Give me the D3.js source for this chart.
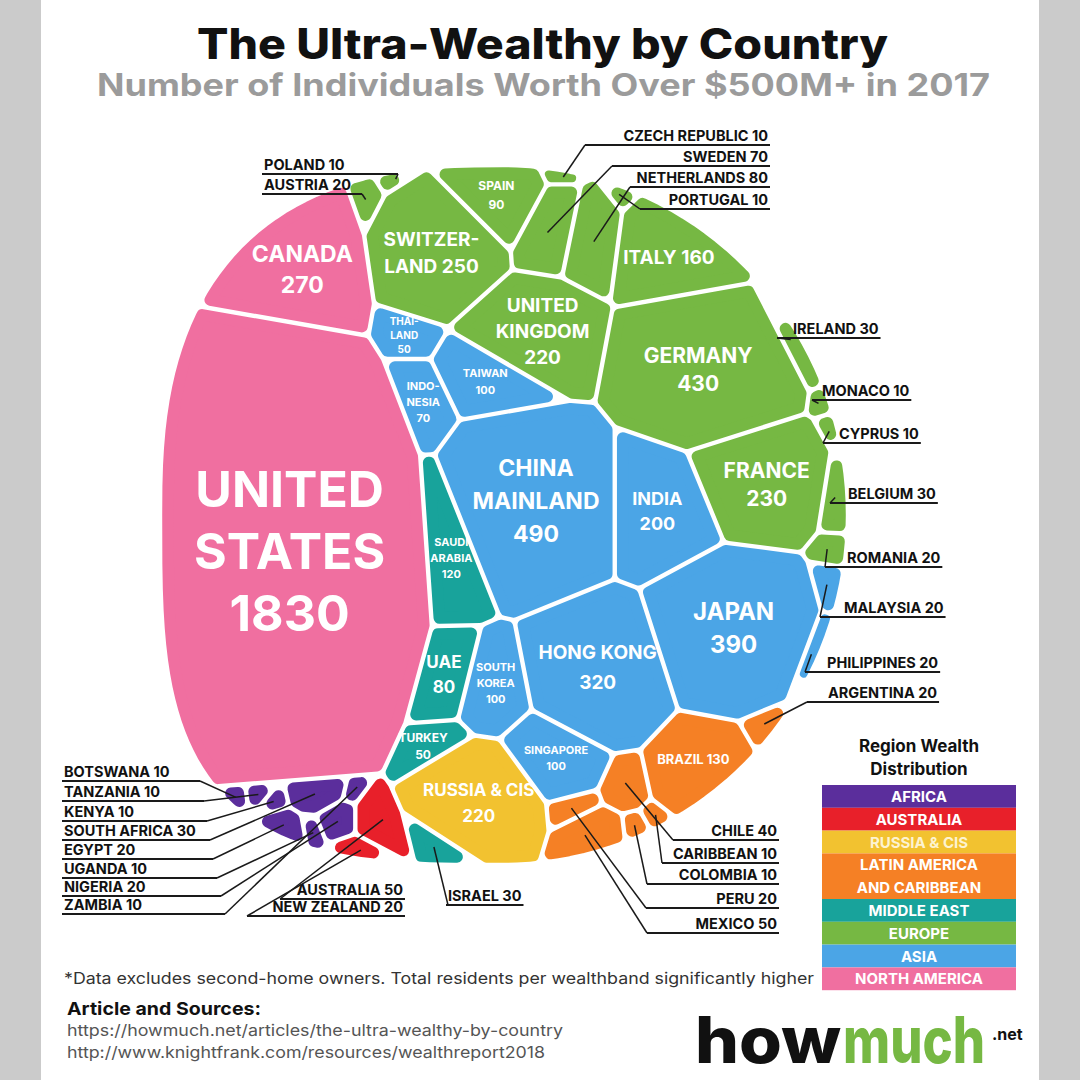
<!DOCTYPE html>
<html>
<head>
<meta charset="utf-8">
<title>The Ultra-Wealthy by Country</title>
<style>
  html, body { margin: 0; padding: 0; background: #fff; }
  svg { display: block; }
  text { font-family: Inter, "Open Sans", sans-serif; }
</style>
</head>
<body>
<script src="https://cdn.jsdelivr.net/npm/d3@7"></script>
<script>
// ---- data ----
var regions = ["Africa", "Australia", "Russia & CIS", "Latin America and Caribbean",
               "Middle East", "Europe", "Asia", "North America"];
var regionColors = ["#5b2e9c", "#e8202a", "#f2c230", "#f58025",
                    "#18a39b", "#76b843", "#4ba5e6", "#f06fa0"];
var legendLines = [["AFRICA"], ["AUSTRALIA"], ["RUSSIA & CIS"], ["LATIN AMERICA", "AND CARIBBEAN"],
                   ["MIDDLE EAST"], ["EUROPE"], ["ASIA"], ["NORTH AMERICA"]];

var countries = [
  "United States", "Canada",
  "Switzerland", "Spain", "Poland", "Austria", "Czech Republic", "Sweden", "Netherlands", "Portugal",
  "Italy", "United Kingdom", "Germany", "Ireland", "Monaco", "Cyprus", "France", "Belgium", "Romania",
  "Thailand", "Taiwan", "Indonesia", "China Mainland", "India", "Japan", "Hong Kong", "South Korea",
  "Singapore", "Malaysia", "Philippines",
  "Saudi Arabia", "UAE", "Turkey", "Israel",
  "Russia & CIS",
  "Argentina", "Brazil", "Chile", "Caribbean", "Colombia", "Peru", "Mexico",
  "Australia", "New Zealand",
  "Botswana", "Tanzania", "Kenya", "South Africa", "Egypt", "Uganda", "Nigeria", "Zambia"
];
var values = [
  1830, 270,
  250, 90, 10, 20, 10, 70, 80, 10,
  160, 220, 430, 30, 10, 10, 230, 30, 20,
  50, 100, 70, 490, 200, 390, 320, 100,
  100, 20, 20,
  120, 80, 50, 30,
  220,
  20, 130, 40, 10, 10, 20, 50,
  50, 20,
  10, 10, 10, 30, 20, 10, 20, 10
];
var countryRegion = [
  "North America", "North America",
  "Europe", "Europe", "Europe", "Europe", "Europe", "Europe", "Europe", "Europe",
  "Europe", "Europe", "Europe", "Europe", "Europe", "Europe", "Europe", "Europe", "Europe",
  "Asia", "Asia", "Asia", "Asia", "Asia", "Asia", "Asia", "Asia",
  "Asia", "Asia", "Asia",
  "Middle East", "Middle East", "Middle East", "Middle East",
  "Russia & CIS",
  "Latin America and Caribbean", "Latin America and Caribbean", "Latin America and Caribbean",
  "Latin America and Caribbean", "Latin America and Caribbean", "Latin America and Caribbean",
  "Latin America and Caribbean",
  "Australia", "Australia",
  "Africa", "Africa", "Africa", "Africa", "Africa", "Africa", "Africa", "Africa"
];

// ---- layout hints: fixed sites of the power diagram ----
var seedHints = [
  [60, 585], [110, 300],
  [455, 250], [495, 210], [412, 182], [372, 207], [556, 180], [556, 243], [590, 250], [634, 215],
  [680, 262], [540, 345], [700, 375], [778, 335], [808, 390], [822, 437], [735, 485], [829, 500], [826, 560],
  [422, 355], [505, 405], [422, 445], [525, 520], [650, 520], [715, 640], [590, 680], [487, 700],
  [545, 765], [818, 612], [800, 672],
  [425, 560], [427, 685], [432, 757], [415, 905],
  [470, 820],
  [755, 737], [690, 775], [607, 793], [645, 833], [620, 847], [557, 812], [577, 852],
  [362, 800], [338, 845],
  [222, 760], [245, 757], [270, 778], [305, 770], [280, 812], [302, 808], [322, 800], [330, 776]
];
// the African and Australian cells are laid out as one group first, then split
var groupedRegions = ["Africa", "Australia"];
var groupSite = [92, 985];

// labels drawn inside cells ("#" = value)
var insideLines = {
  "United States": ["UNITED", "STATES", "#"], "Canada": ["CANADA", "#"],
  "Switzerland": ["SWITZER-", "LAND #"], "Spain": ["SPAIN", "#"], "Italy": ["ITALY #"],
  "United Kingdom": ["UNITED", "KINGDOM", "#"], "Germany": ["GERMANY", "#"], "France": ["FRANCE", "#"],
  "Thailand": ["THAI-", "LAND", "#"], "Taiwan": ["TAIWAN", "#"], "Indonesia": ["INDO-", "NESIA", "#"],
  "China Mainland": ["CHINA", "MAINLAND", "#"], "India": ["INDIA", "#"], "Japan": ["JAPAN", "#"],
  "Hong Kong": ["HONG KONG", "#"], "South Korea": ["SOUTH", "KOREA", "#"], "Singapore": ["SINGAPORE", "#"],
  "Saudi Arabia": ["SAUDI", "ARABIA", "#"], "UAE": ["UAE", "#"], "Turkey": ["TURKEY", "#"],
  "Russia & CIS": ["RUSSIA & CIS", "#"], "Brazil": ["BRAZIL #"]
};
var insideFont = {
  "United States": [50, 62], "Canada": [23, 31], "Switzerland": [19, 27], "Spain": [12, 19],
  "Italy": [19, 20], "United Kingdom": [19, 26], "Germany": [21, 28], "France": [21, 28],
  "Thailand": [10, 14], "Taiwan": [11, 17], "Indonesia": [11, 16], "China Mainland": [23, 33],
  "India": [18, 25], "Japan": [24, 33], "Hong Kong": [19, 30], "South Korea": [11, 16],
  "Singapore": [11, 16], "Saudi Arabia": [11, 16], "UAE": [17, 25], "Turkey": [12, 17],
  "Russia & CIS": [17, 26], "Brazil": [13, 14]
};
// labels outside: name, text x, baseline y, anchor, x where the leader leaves the underline
var outsideLabels = [
  ["Poland", 264, 170, "start", 398], ["Austria", 264, 190, "start", 362],
  ["Czech Republic", 768, 141, "end", 585], ["Sweden", 768, 162, "end", 612],
  ["Netherlands", 768, 183, "end", 630], ["Portugal", 768, 205, "end", 640],
  ["Ireland", 793, 334, "start", 777], ["Monaco", 822, 396, "start", 812],
  ["Cyprus", 839, 439, "start", 823], ["Belgium", 848, 499, "start", 830],
  ["Romania", 847, 563, "start", 825], ["Malaysia", 844, 613, "start", 820],
  ["Philippines", 827, 668, "start", 805], ["Argentina", 828, 698, "start", 807],
  ["Chile", 777, 836, "end", 673], ["Caribbean", 777, 859, "end", 662],
  ["Colombia", 777, 880, "end", 647], ["Peru", 777, 904, "end", 646],
  ["Mexico", 777, 929, "end", 647], ["Israel", 448, 901, "start", 448],
  ["Australia", 403, 895, "end", 280], ["New Zealand", 403, 912, "end", 247],
  ["Botswana", 64, 777, "start", 200], ["Tanzania", 64, 797, "start", 204],
  ["Kenya", 64, 817, "start", 207], ["South Africa", 64, 836, "start", 210],
  ["Egypt", 64, 855, "start", 213], ["Uganda", 64, 874, "start", 217],
  ["Nigeria", 64, 892, "start", 221], ["Zambia", 64, 910, "start", 225]
];

// ---- svg ----
var W = 1080, H = 1080;
var svg = d3.select("body").append("svg").attr("width", W).attr("height", H);
svg.append("rect").attr("width", W).attr("height", H).attr("fill", "#fff");
svg.append("rect").attr("x", 0).attr("width", 41).attr("height", H).attr("fill", "#cbcbcb");
svg.append("rect").attr("x", 1039).attr("width", 41).attr("height", H).attr("fill", "#cbcbcb");

var color = d3.scaleOrdinal().domain(regions).range(regionColors);

// ---- outline: circle on the right, flatter superellipse on the left ----
var CX = 503, CY = 515, AL = 343, AR = 345, B = 350, NT = 2.6, NB = 3.3;
var outline = d3.range(160).map(function (i) {
  var t = i / 160 * 2 * Math.PI, c = Math.cos(t), s = Math.sin(t);
  if (c < 0) {
    var e = 2 / (s > 0 ? NB : NT);
    return [CX - AL * Math.pow(-c, e), CY + B * Math.sign(s) * Math.pow(Math.abs(s), e)];
  }
  return [CX + AR * c, CY + B * s];
});

function clipHalf(poly, nx, ny, c) {
  var out = [], n = poly.length;
  for (var i = 0; i < n; i++) {
    var P = poly[i], Q = poly[(i + 1) % n];
    var fp = nx * P[0] + ny * P[1] - c, fq = nx * Q[0] + ny * Q[1] - c;
    if (fp <= 0) out.push(P);
    if ((fp <= 0) !== (fq <= 0)) {
      var t = fp / (fp - fq);
      out.push([P[0] + t * (Q[0] - P[0]), P[1] + t * (Q[1] - P[1])]);
    }
  }
  return out;
}
function planesOf(poly) {
  var c = d3.polygonCentroid(poly);
  return poly.map(function (a, i) {
    var b = poly[(i + 1) % poly.length];
    var nx = b[1] - a[1], ny = -(b[0] - a[0]), L = Math.hypot(nx, ny) || 1;
    nx /= L; ny /= L;
    if (nx * (c[0] - a[0]) + ny * (c[1] - a[1]) > 0) { nx = -nx; ny = -ny; }
    return [nx, ny, nx * a[0] + ny * a[1]];
  });
}
function d2(a, b) { return (a.x - b.x) * (a.x - b.x) + (a.y - b.y) * (a.y - b.y); }

// power diagram with fixed sites; weights are solved so that areas match the values
function voronoiMap(points, vals, clipPoly, iterations, rSkip) {
  var planes = planesOf(clipPoly);
  var xs = clipPoly.map(function (p) { return p[0]; }), ys = clipPoly.map(function (p) { return p[1]; });
  var box = [[d3.min(xs) - 50, d3.min(ys) - 50], [d3.max(xs) + 50, d3.min(ys) - 50],
             [d3.max(xs) + 50, d3.max(ys) + 50], [d3.min(xs) - 50, d3.max(ys) + 50]];
  var cen = d3.polygonCentroid(clipPoly);
  var sites = points.map(function (p) { return { x: p[0], y: p[1], w: 0 }; });
  var orders = sites.map(function (si, i) {
    return d3.range(sites.length).filter(function (j) { return j !== i; })
      .sort(function (a, b) { return d2(si, sites[a]) - d2(si, sites[b]); });
  });
  var sum = d3.sum(vals), area = Math.abs(d3.polygonArea(clipPoly));
  var targets = vals.map(function (v) { return v / sum * area; });
  function cellsNow() {
    return sites.map(function (si, i) {
      var poly = box, ord = orders[i];
      for (var k = 0; k < ord.length && poly.length > 2; k++) {
        var sj = sites[ord[k]];
        poly = clipHalf(poly, 2 * (sj.x - si.x), 2 * (sj.y - si.y),
          sj.x * sj.x + sj.y * sj.y - si.x * si.x - si.y * si.y - sj.w + si.w);
      }
      var far = !rSkip || poly.some(function (p) {
        return (p[0] - cen[0]) * (p[0] - cen[0]) + (p[1] - cen[1]) * (p[1] - cen[1]) > rSkip * rSkip;
      });
      if (far) {
        for (var m = 0; m < planes.length && poly.length > 2; m++) {
          poly = clipHalf(poly, planes[m][0], planes[m][1], planes[m][2]);
        }
      }
      return poly.length > 2 ? poly : [];
    });
  }
  for (var it = 0; it < iterations; it++) {
    var cells = cellsNow();
    var eta = it < iterations * 0.8 ? 0.5 : 0.3;
    sites.forEach(function (s, i) {
      var a = cells[i].length ? Math.abs(d3.polygonArea(cells[i])) : 0;
      s.w += eta * (targets[i] - a);
    });
  }
  return cellsNow();
}

// level 1: every country outside the group, plus the group itself
function inGroup(i) { return groupedRegions.indexOf(countryRegion[i]) >= 0; }
var topIdx = d3.range(countries.length).filter(function (i) { return !inGroup(i); });
var grpIdx = d3.range(countries.length).filter(inGroup);
var topPts = topIdx.map(function (i) { return seedHints[i]; }).concat([groupSite]);
var topVals = topIdx.map(function (i) { return values[i]; })
  .concat([d3.sum(grpIdx, function (i) { return values[i]; })]);
var topCells = voronoiMap(topPts, topVals, outline, 2500, 320);

var finalCells = [];
topIdx.forEach(function (i, k) { finalCells[i] = topCells[k]; });
var groupPoly = topCells[topCells.length - 1];
var grpCells = groupPoly.length
  ? voronoiMap(grpIdx.map(function (i) { return seedHints[i]; }),
               grpIdx.map(function (i) { return values[i]; }), groupPoly, 2000, 0)
  : grpIdx.map(function () { return []; });
grpIdx.forEach(function (i, k) { finalCells[i] = grpCells[k]; });

// shrink a convex cell so that rounded corners can be drawn with a stroke
function inset(poly, d) {
  var c = d3.polygonCentroid(poly), out = poly;
  for (var i = 0; i < poly.length; i++) {
    var a = poly[i], b = poly[(i + 1) % poly.length];
    var nx = -(b[1] - a[1]), ny = b[0] - a[0], L = Math.hypot(nx, ny);
    if (L < 1e-9) continue;
    nx /= L; ny /= L;
    if ((c[0] - a[0]) * nx + (c[1] - a[1]) * ny > 0) { nx = -nx; ny = -ny; }
    out = clipHalf(out, nx, ny, nx * a[0] + ny * a[1] - d);
    if (out.length < 3) return [];
  }
  return out;
}

var GAP = 2.2;
var line = d3.line().curve(d3.curveLinearClosed);
var cellG = svg.append("g");
countries.forEach(function (name, i) {
  var poly = finalCells[i];
  if (!poly || !poly.length) return;
  var d = [8, 6, 4.5, 3.2, 2.6].find(function (r) {
    var p = inset(poly, r);
    return p.length && Math.abs(d3.polygonArea(p)) > 4;
  }) || 2.6;
  var shape = inset(poly, d);
  if (!shape.length) shape = poly;
  cellG.append("path")
    .attr("d", line(shape))
    .attr("fill", color(countryRegion[i]))
    .attr("stroke", color(countryRegion[i]))
    .attr("stroke-width", Math.max(0.5, 2 * (d - GAP)))
    .attr("stroke-linejoin", "round");
});

// inside labels
var labelG = svg.append("g").attr("fill", "#fff").attr("font-weight", 700).attr("text-anchor", "middle");
countries.forEach(function (name, i) {
  var lines = insideLines[name];
  if (!lines || !finalCells[i] || !finalCells[i].length) return;
  var c = d3.polygonCentroid(finalCells[i]);
  var fs = insideFont[name][0], lh = insideFont[name][1];
  var t = labelG.append("text").attr("font-size", fs);
  lines.forEach(function (l, k) {
    t.append("tspan")
      .attr("x", c[0])
      .attr("y", c[1] + (k - (lines.length - 1) / 2) * lh + fs * 0.36)
      .text(l.replace("#", values[i]));
  });
});

// outside labels with leaders
var outG = svg.append("g");
outsideLabels.forEach(function (o) {
  var i = countries.indexOf(o[0]);
  var t = outG.append("text")
    .attr("x", o[1]).attr("y", o[2])
    .attr("text-anchor", o[3])
    .attr("font-size", 14.5).attr("font-weight", 700).attr("fill", "#111")
    .text(o[0].toUpperCase() + " " + values[i]);
  var w = t.node().getComputedTextLength();
  var left = o[3] === "start" ? o[1] : o[1] - w, right = left + w;
  var uy = o[2] + 4;
  outG.append("line")
    .attr("x1", Math.min(left - 2, o[4])).attr("x2", Math.max(right + 2, o[4]))
    .attr("y1", uy).attr("y2", uy)
    .attr("stroke", "#1a1a1a").attr("stroke-width", 2);
  if (finalCells[i] && finalCells[i].length) {
    var c = d3.polygonCentroid(finalCells[i]);
    outG.append("line")
      .attr("x1", o[4]).attr("y1", uy).attr("x2", c[0]).attr("y2", c[1])
      .attr("stroke", "#1a1a1a").attr("stroke-width", 1.5);
  }
});

// ---- title ----
svg.append("text").attr("x", 197).attr("y", 59)
  .attr("font-size", 42).attr("font-weight", 800).attr("fill", "#111")
  .attr("textLength", 691).attr("lengthAdjust", "spacingAndGlyphs")
  .text("The Ultra-Wealthy by Country");
svg.append("text").attr("x", 97).attr("y", 96)
  .attr("font-size", 31).attr("font-weight", 700).attr("fill", "#9b9b9b")
  .attr("textLength", 893).attr("lengthAdjust", "spacingAndGlyphs")
  .text("Number of Individuals Worth Over $500M+ in 2017");

// ---- legend ----
var legX = 822, legW = 194, rowH = 22.8;
svg.append("text").attr("x", legX + legW / 2).attr("y", 752).attr("text-anchor", "middle")
  .attr("font-size", 17).attr("font-weight", 700).attr("fill", "#111").text("Region Wealth");
svg.append("text").attr("x", legX + legW / 2).attr("y", 775).attr("text-anchor", "middle")
  .attr("font-size", 17).attr("font-weight", 700).attr("fill", "#111").text("Distribution");
var yLeg = 785;
regions.forEach(function (r, k) {
  var h = rowH * legendLines[k].length;
  svg.append("rect").attr("x", legX).attr("y", yLeg).attr("width", legW).attr("height", h)
    .attr("fill", color(r));
  legendLines[k].forEach(function (l, j) {
    svg.append("text").attr("x", legX + legW / 2).attr("y", yLeg + rowH * j + 17)
      .attr("text-anchor", "middle").attr("font-size", 15).attr("font-weight", 700)
      .attr("fill", r === "Russia & CIS" ? "#fdf3d0" : "#fff").text(l);
  });
  yLeg += h;
});

// ---- footer ----
svg.append("text").attr("x", 64).attr("y", 984).attr("font-size", 16).attr("fill", "#333")
  .attr("textLength", 750).attr("lengthAdjust", "spacingAndGlyphs")
  .text("*Data excludes second-home owners. Total residents per wealthband significantly higher");
svg.append("text").attr("x", 67).attr("y", 1015).attr("font-size", 18).attr("font-weight", 700)
  .attr("fill", "#111").attr("textLength", 194).attr("lengthAdjust", "spacingAndGlyphs")
  .text("Article and Sources:");
svg.append("text").attr("x", 67).attr("y", 1036).attr("font-size", 16).attr("fill", "#555")
  .attr("textLength", 496).attr("lengthAdjust", "spacingAndGlyphs")
  .text("https://howmuch.net/articles/the-ultra-wealthy-by-country");
svg.append("text").attr("x", 67).attr("y", 1058).attr("font-size", 16).attr("fill", "#555")
  .attr("textLength", 478).attr("lengthAdjust", "spacingAndGlyphs")
  .text("http://www.knightfrank.com/resources/wealthreport2018");

// logo: words squeezed with a transform so their boxes match the drawn width
function logoWord(txt, x, width, fill) {
  var g = svg.append("g");
  var t = g.append("text").attr("font-size", 64).attr("font-weight", 800).attr("fill", fill).text(txt);
  var sx = width / t.node().getComputedTextLength();
  g.attr("transform", "translate(" + x + ",1063) scale(" + sx + ",1)");
}
logoWord("how", 695, 146, "#111");
logoWord("much", 843, 142, "#76b843");
svg.append("text").attr("x", 992).attr("y", 1040).attr("font-size", 16).attr("font-weight", 700)
  .attr("fill", "#111").text(".net");
</script>
</body>
</html>
